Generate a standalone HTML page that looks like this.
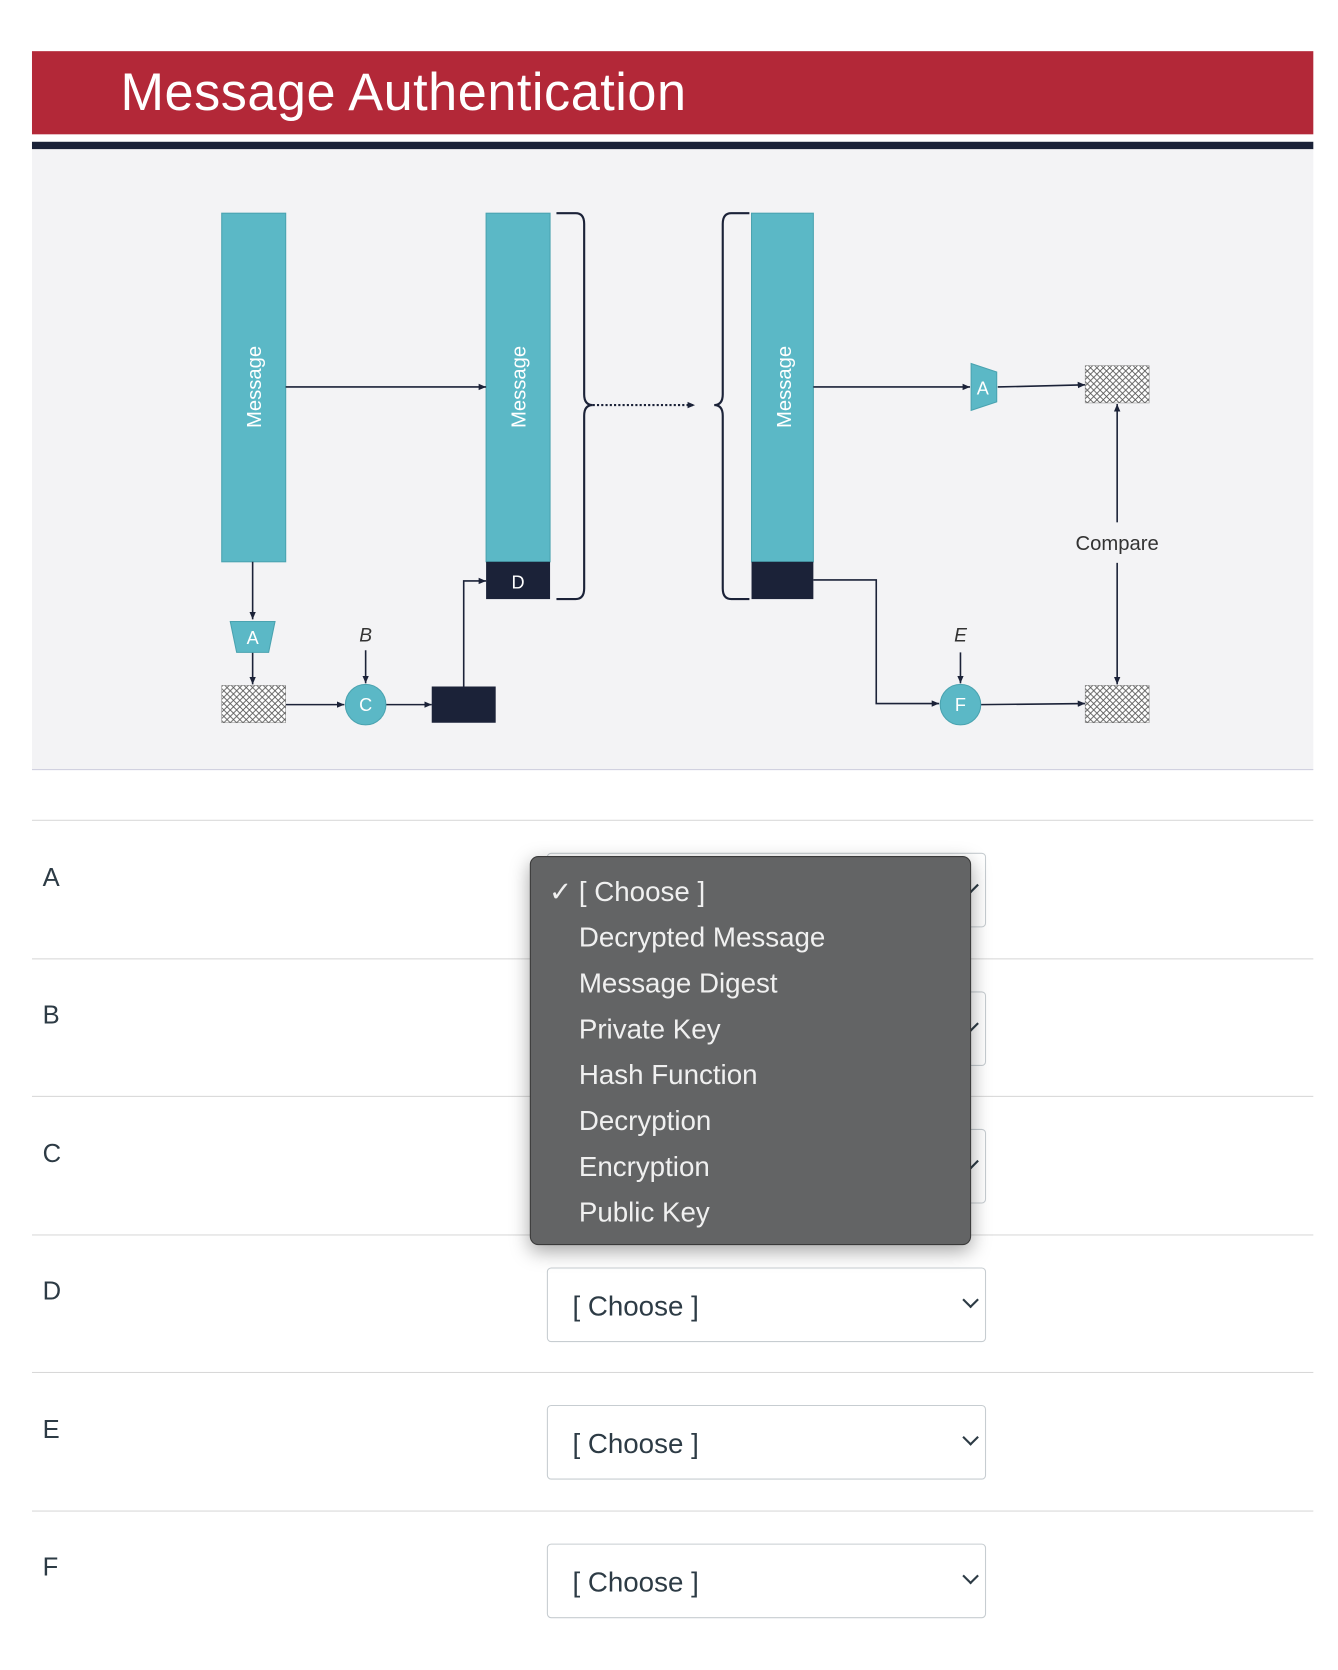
<!DOCTYPE html>
<html><head><meta charset="utf-8"><style>
body{margin:0;background:#fff;width:1338px;height:1670px;overflow:hidden;font-family:"Liberation Sans",sans-serif}
#w{position:absolute;left:0;top:0;width:1250px;height:1560px;transform:scale(1.066);transform-origin:0 0}
.abs{position:absolute}
.hr{position:absolute;left:30px;width:1202px;height:1px;background:#d8d8d8}
.lbl{position:absolute;left:40px;font-size:24px;color:#2d3b45}
.sel{position:absolute;left:513px;width:410px;height:68px;border:1px solid #c7cdd1;border-radius:4px;background:#fff;box-sizing:content-box}
.sel span{position:absolute;left:23px;top:20px;font-size:26px;color:#2d3b45}
.sel i{position:absolute;right:8px;top:24px;width:9px;height:9px;border-right:2px solid #2d3b45;border-bottom:2px solid #2d3b45;transform:rotate(45deg)}
#dd{position:absolute;left:497px;top:803px;width:412px;height:363px;background:#636465;border:1px solid #3a3a3a;border-radius:8px;box-shadow:0 6px 18px rgba(0,0,0,.35)}
#dd div{position:absolute;left:45px;font-size:26px;color:#f0f0f0;white-space:nowrap}
</style></head><body><div id="w">
<div class="abs" style="left:30px;top:48px;width:1202px;height:78px;background:#b32838"></div>
<div class="abs" style="left:113px;top:57px;font-size:50px;color:#fff;letter-spacing:0.5px;transform:scaleX(0.98);transform-origin:0 0">Message Authentication</div>
<div class="abs" style="left:30px;top:133px;width:1202px;height:7px;background:#1b2238"></div>
<svg class="abs" style="left:0;top:0" width="1250" height="730">
<defs>
<pattern id="x" width="6" height="6" patternUnits="userSpaceOnUse"><path d="M0 0L6 6M6 0L0 6" stroke="#555" stroke-width="0.8"/></pattern>
<marker id="ar" markerWidth="8" markerHeight="8" refX="7" refY="4" orient="auto" markerUnits="userSpaceOnUse"><path d="M0 1L7 4L0 7Z" fill="#1b2238"/></marker>
</defs>
<rect x="30" y="140" width="1202" height="582" fill="#f3f3f5"/>
<line x1="30" y1="722" x2="1232" y2="722" stroke="#ccd" />
<g fill="#5bb8c6" stroke="#4aa3b0">
<rect x="208" y="200" width="60" height="327"/><rect x="456" y="200" width="60" height="327"/><rect x="705" y="200" width="58" height="327"/>
</g>
<rect x="456" y="527" width="60" height="35" fill="#1b2238"/><rect x="705" y="527" width="58" height="35" fill="#1b2238"/>
<rect x="405" y="644" width="60" height="34" fill="#1b2238"/>
<g font-family="Liberation Sans" font-size="19" fill="#fff" text-anchor="middle">
<text transform="translate(245,363) rotate(-90)">Message</text>
<text transform="translate(493,363) rotate(-90)">Message</text>
<text transform="translate(742,363) rotate(-90)">Message</text>
<text x="486" y="552" font-size="17">D</text>
</g>
<g fill="none" stroke="#1b2238" stroke-width="2">
<path d="M522 200H540Q548 200 548 210V370Q548 380 556 380Q548 380 548 390V552Q548 562 540 562H522"/>
<path d="M703 200H686Q678 200 678 210V370Q678 380 670 380Q678 380 678 390V552Q678 562 686 562H703"/>
<line x1="556" y1="380" x2="652" y2="380" stroke-dasharray="2 2" marker-end="url(#ar)"/>
<line x1="268" y1="363" x2="456" y2="363" stroke-width="1.5" marker-end="url(#ar)"/>
<line x1="237" y1="527" x2="237" y2="581" stroke-width="1.5" marker-end="url(#ar)"/>
<line x1="237" y1="612" x2="237" y2="642" stroke-width="1.5" marker-end="url(#ar)"/>
<line x1="268" y1="661" x2="323" y2="661" stroke-width="1.5" marker-end="url(#ar)"/>
<line x1="343" y1="610" x2="343" y2="641" stroke-width="1.5" marker-end="url(#ar)"/>
<line x1="362" y1="661" x2="405" y2="661" stroke-width="1.5" marker-end="url(#ar)"/>
<path d="M435 644V545H456" stroke-width="1.5" marker-end="url(#ar)"/>
<line x1="763" y1="363" x2="910" y2="363" stroke-width="1.5" marker-end="url(#ar)"/>
<line x1="936" y1="363" x2="1018" y2="361" stroke-width="1.5" marker-end="url(#ar)"/>
<line x1="1048" y1="490" x2="1048" y2="379" stroke-width="1.5" marker-end="url(#ar)"/>
<line x1="1048" y1="528" x2="1048" y2="642" stroke-width="1.5" marker-end="url(#ar)"/>
<path d="M763 544H822V660H881" stroke-width="1.5" marker-end="url(#ar)"/>
<line x1="901" y1="612" x2="901" y2="641" stroke-width="1.5" marker-end="url(#ar)"/>
<line x1="920" y1="661" x2="1018" y2="660" stroke-width="1.5" marker-end="url(#ar)"/>
</g>
<g fill="#fff" stroke="#888" stroke-width="0.5">
<rect x="208" y="643" width="60" height="35"/><rect x="1018" y="343" width="60" height="35"/><rect x="1018" y="643" width="60" height="35"/>
</g>
<g fill="url(#x)"><rect x="208" y="643" width="60" height="35"/><rect x="1018" y="343" width="60" height="35"/><rect x="1018" y="643" width="60" height="35"/></g>
<g fill="#5bb8c6" stroke="#4aa3b0">
<path d="M216 583H258L252 612H222Z"/>
<path d="M911 341L935 349V377L911 385Z"/>
<circle cx="343" cy="661" r="19"/><circle cx="901" cy="661" r="19"/>
</g>
<g font-family="Liberation Sans" font-size="17" fill="#fff" text-anchor="middle">
<text x="237" y="604">A</text><text x="922" y="370">A</text><text x="343" y="667">C</text><text x="901" y="667">F</text>
</g>
<g font-family="Liberation Sans" font-size="18" fill="#333" text-anchor="middle" font-style="italic">
<text x="343" y="602">B</text><text x="901" y="602">E</text>
<text x="1048" y="516" font-style="normal" font-size="19">Compare</text>
</g>
</svg>
<div class="hr" style="top:769px"></div><div class="hr" style="top:899px"></div><div class="hr" style="top:1028px"></div><div class="hr" style="top:1158px"></div><div class="hr" style="top:1287px"></div><div class="hr" style="top:1417px"></div>
<div class="lbl" style="top:810px">A</div><div class="lbl" style="top:939px">B</div><div class="lbl" style="top:1069px">C</div><div class="lbl" style="top:1198px">D</div><div class="lbl" style="top:1328px">E</div><div class="lbl" style="top:1457px">F</div>
<div class="sel" style="top:800px"><i></i></div>
<div class="sel" style="top:930px"><i></i></div>
<div class="sel" style="top:1059px"><i></i></div>
<div class="sel" style="top:1189px"><span>[ Choose ]</span><i></i></div>
<div class="sel" style="top:1318px"><span>[ Choose ]</span><i></i></div>
<div class="sel" style="top:1448px"><span>[ Choose ]</span><i></i></div>
<div id="dd">
<div style="left:17px;top:17px">✓</div>
<div style="top:17px">[ Choose ]</div>
<div style="top:60px">Decrypted Message</div>
<div style="top:103px">Message Digest</div>
<div style="top:146px">Private Key</div>
<div style="top:189px">Hash Function</div>
<div style="top:232px">Decryption</div>
<div style="top:275px">Encryption</div>
<div style="top:318px">Public Key</div>
</div>
</div></body></html>
